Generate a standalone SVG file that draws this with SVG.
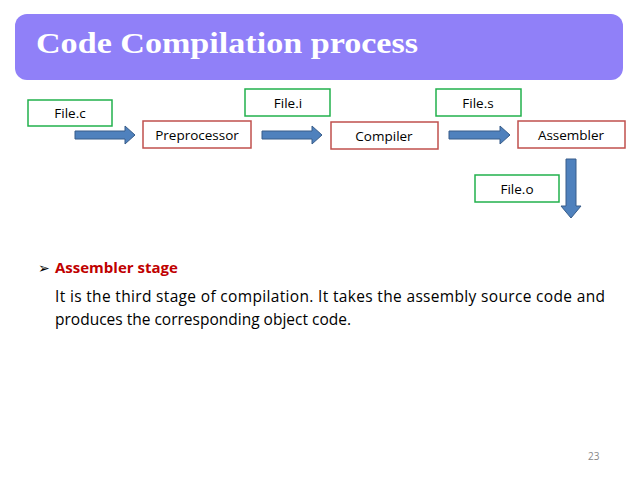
<svg xmlns="http://www.w3.org/2000/svg" width="638" height="478" viewBox="0 0 638 478">
<style>
.g{fill:#fff;stroke:#22b14c;stroke-width:1.5}
.r{fill:#fff;stroke:#c0504d;stroke-width:1.5}
.t{font-family:"Open Sans","Liberation Sans",sans-serif;font-size:13.5px;fill:#000;text-anchor:middle}
.a{fill:#4f81bd;stroke:#385d8a;stroke-width:1}
.b{font-family:"Open Sans","Liberation Sans",sans-serif;font-size:15.5px;fill:#000}
</style>
<rect width="638" height="478" fill="#fff"/>
<g id="title"><rect x="15" y="14" width="608" height="66" rx="12" fill="#9080f8"/>
<text x="36" y="53" font-family="Liberation Serif,serif" font-weight="bold" font-size="29" fill="#fff" textLength="382" lengthAdjust="spacingAndGlyphs">Code Compilation process</text></g>
<g id="filec"><rect class="g" x="28" y="100" width="84" height="26"/><text class="t" x="70" y="118">File.c</text></g>
<g id="pre"><rect class="r" x="143" y="121" width="108" height="27"/><text class="t" x="197" y="140">Preprocessor</text></g>
<g id="filei"><rect class="g" x="245" y="89" width="85" height="27"/><text class="t" x="288" y="108">File.i</text></g>
<g id="comp"><rect class="r" x="331" y="122" width="107" height="27"/><text class="t" x="384" y="141">Compiler</text></g>
<g id="files"><rect class="g" x="436" y="89" width="85" height="27"/><text class="t" x="478" y="108">File.s</text></g>
<g id="asm"><rect class="r" x="518" y="121" width="107" height="27"/><text class="t" x="571" y="140">Assembler</text></g>
<g id="fileo"><rect class="g" x="475" y="175" width="84" height="27"/><text class="t" x="517" y="194">File.o</text></g>
<g id="connectors">
<path class="a" d="M75,131H125V126L135,135L125,144V139H75Z"/>
<path class="a" d="M262,131H312V126L322,135L312,144V139H262Z"/>
<path class="a" d="M449,131H500V126L510,135L500,144V139H449Z"/>
<path class="a" d="M566,159V206H561L571,218L581,206H576V159Z"/>
</g>
<g id="text">
<text x="38" y="273" font-family="DejaVu Sans,sans-serif" font-size="14" fill="#000">➢</text>
<text x="55" y="273" font-family="Open Sans,Liberation Sans,sans-serif" font-weight="bold" font-size="15" fill="#c00000">Assembler stage</text>
<text class="b" x="55" y="302" textLength="550">It is the third stage of compilation. It takes the assembly source code and</text>
<text class="b" x="55" y="325">produces the corresponding object code.</text>
<text x="588" y="460" font-family="Open Sans,Liberation Sans,sans-serif" font-size="10" fill="#888">23</text>
</g>
</svg>
